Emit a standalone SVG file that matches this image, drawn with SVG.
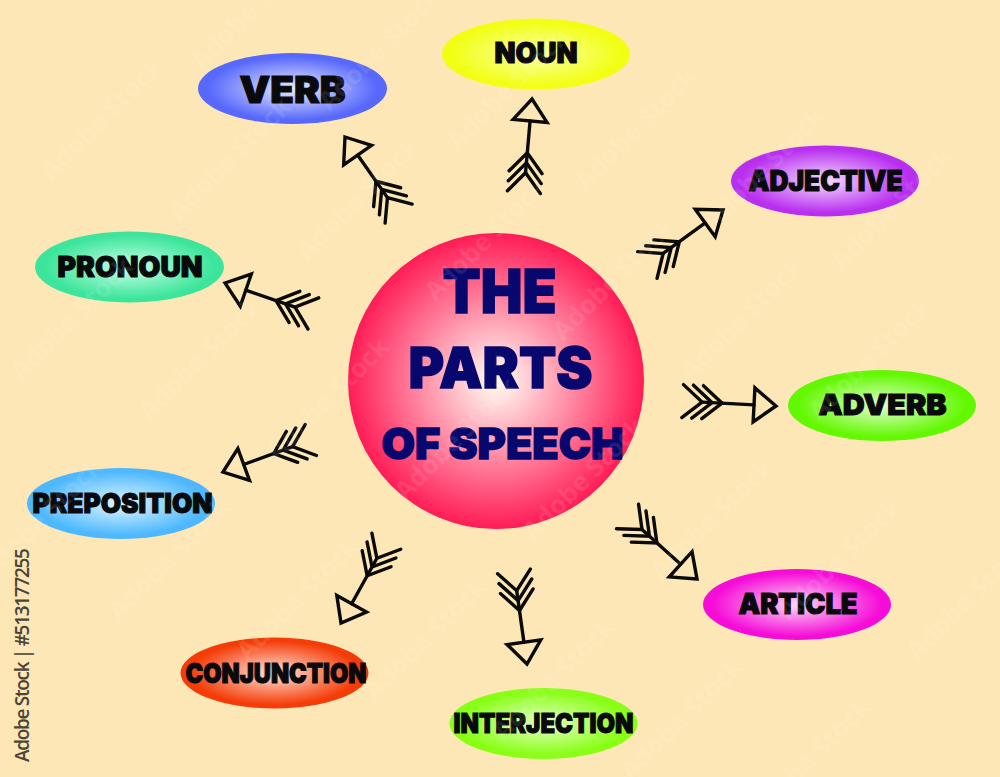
<svg xmlns="http://www.w3.org/2000/svg" xmlns:xlink="http://www.w3.org/1999/xlink" width="1000" height="777" viewBox="0 0 1000 777">
<style>
.lb{font-family:Inter,"Liberation Sans",Arial,sans-serif;font-weight:900;fill:#0a0a0c;stroke:#0a0a0c;stroke-width:1.1;text-anchor:middle}
.tt{font-family:Inter,"Liberation Sans",Arial,sans-serif;font-weight:900;fill:#07076e;stroke:#07076e;stroke-width:1.4;text-anchor:middle}
.ar{fill:none;stroke:#0a0a0a;stroke-width:3.4;stroke-linecap:round;stroke-linejoin:miter}
.wm{font-family:"Open Sans",sans-serif;font-weight:700;font-size:26px;fill:#fff;fill-opacity:.1;text-anchor:middle}
.id{font-family:"Open Sans",sans-serif;font-weight:600;font-size:19px;fill:#4a4538}
</style>
<defs>
<radialGradient id="gC"><stop offset="0" stop-color="#fffae0"/><stop offset=".12" stop-color="#ffe4e2"/><stop offset="1" stop-color="#ff1c56"/></radialGradient>
<radialGradient id="g1"><stop offset="0" stop-color="#fbffa8"/><stop offset=".9" stop-color="#f2ff14"/></radialGradient>
<radialGradient id="g2"><stop offset="0" stop-color="#e8ecff"/><stop offset=".9" stop-color="#5768fb"/></radialGradient>
<radialGradient id="g3"><stop offset="0" stop-color="#c8ffe6"/><stop offset=".9" stop-color="#3ce59b"/></radialGradient>
<radialGradient id="g4"><stop offset="0" stop-color="#f3dcff"/><stop offset=".9" stop-color="#b92ff0"/></radialGradient>
<radialGradient id="g5"><stop offset="0" stop-color="#e2ffd0"/><stop offset=".9" stop-color="#62f800"/></radialGradient>
<radialGradient id="g6"><stop offset="0" stop-color="#ffd8f6"/><stop offset=".9" stop-color="#f50cd8"/></radialGradient>
<radialGradient id="g7"><stop offset="0" stop-color="#e6ffc8"/><stop offset=".9" stop-color="#88ff14"/></radialGradient>
<radialGradient id="g8"><stop offset="0" stop-color="#ffe4da"/><stop offset=".9" stop-color="#f53c08"/></radialGradient>
<radialGradient id="g9"><stop offset="0" stop-color="#e0f6ff"/><stop offset=".9" stop-color="#4db8ff"/></radialGradient>
<g id="arw" class="ar">
<path d="M0 0L17 22H-17Z"/>
<path d="M0 22V74"/>
<path d="M-16.500 73.500L0 54L16.500 73.500M-16.500 83.500L0 64L16.500 83.500M-16.500 93.500L0 74L16.500 93.500"/>
</g>
<text id="mk" class="wm" transform="rotate(-45)">Adobe Stock</text>
</defs>
<rect width="1000" height="777" fill="#fde7b6"/>
<g id="connectors">
<use xlink:href="#arw" href="#arw" transform="translate(532 99) rotate(5)"/>
<use xlink:href="#arw" href="#arw" transform="translate(345 137) rotate(-35)"/>
<use xlink:href="#arw" href="#arw" transform="translate(723 210) rotate(54)"/>
<use xlink:href="#arw" href="#arw" transform="translate(776 406) rotate(93)"/>
<use xlink:href="#arw" href="#arw" transform="translate(697 579) rotate(132)"/>
<use xlink:href="#arw" href="#arw" transform="translate(527 664) rotate(172)"/>
<use xlink:href="#arw" href="#arw" transform="translate(341 623) rotate(209)"/>
<use xlink:href="#arw" href="#arw" transform="translate(223 472) rotate(250)"/>
<use xlink:href="#arw" href="#arw" transform="translate(225 283) rotate(-71)"/>
</g>
<g id="center"><circle cx="496" cy="381" r="148" fill="url(#gC)"/>
<text class="tt" x="499.500" y="313" font-size="60" textLength="114" lengthAdjust="spacingAndGlyphs">THE</text>
<text class="tt" x="500.500" y="388" font-size="56" textLength="184" lengthAdjust="spacingAndGlyphs">PARTS</text>
<text class="tt" x="502.500" y="459" font-size="42" textLength="242" lengthAdjust="spacingAndGlyphs">OF SPEECH</text></g>
<g id="noun"><ellipse cx="536" cy="54" rx="94" ry="35.500" fill="url(#g1)"/><text class="lb" x="536" y="63" font-size="28" textLength="83" lengthAdjust="spacingAndGlyphs">NOUN</text></g>
<g id="verb"><ellipse cx="292.500" cy="88.500" rx="94.500" ry="35.500" fill="url(#g2)"/><text class="lb" x="292.500" y="103" font-size="37" textLength="106" lengthAdjust="spacingAndGlyphs">VERB</text></g>
<g id="pronoun"><ellipse cx="129.500" cy="267" rx="94.500" ry="35.500" fill="url(#g3)"/><text class="lb" x="130" y="277" font-size="28" textLength="145" lengthAdjust="spacingAndGlyphs">PRONOUN</text></g>
<g id="adjective"><ellipse cx="825" cy="181" rx="94" ry="35.500" fill="url(#g4)"/><text class="lb" x="825.500" y="191" font-size="28" textLength="154" lengthAdjust="spacingAndGlyphs">ADJECTIVE</text></g>
<g id="adverb"><ellipse cx="882" cy="405.500" rx="94" ry="35.500" fill="url(#g5)"/><text class="lb" x="882.500" y="415" font-size="29" textLength="128" lengthAdjust="spacingAndGlyphs">ADVERB</text></g>
<g id="article"><ellipse cx="797" cy="604.500" rx="94" ry="35.500" fill="url(#g6)"/><text class="lb" x="798" y="614" font-size="28" textLength="119" lengthAdjust="spacingAndGlyphs">ARTICLE</text></g>
<g id="interjection"><ellipse cx="543.500" cy="723.500" rx="94" ry="35.500" fill="url(#g7)"/><text class="lb" x="543.500" y="733" font-size="27" textLength="180" lengthAdjust="spacingAndGlyphs">INTERJECTION</text></g>
<g id="conjunction"><ellipse cx="274.500" cy="673" rx="94" ry="35.500" fill="url(#g8)"/><text class="lb" x="276" y="683" font-size="27" textLength="181" lengthAdjust="spacingAndGlyphs">CONJUNCTION</text></g>
<g id="preposition"><ellipse cx="121" cy="503.500" rx="94" ry="35.500" fill="url(#g9)"/><text class="lb" x="122.500" y="513" font-size="27" textLength="180" lengthAdjust="spacingAndGlyphs">PREPOSITION</text></g>
<g id="marks">
<use href="#mk" transform="translate(108 125)"/><use href="#mk" transform="translate(236 165)"/><use href="#mk" transform="translate(364 205)"/><use href="#mk" transform="translate(492 245)"/><use href="#mk" transform="translate(620 285)"/><use href="#mk" transform="translate(748 325)"/><use href="#mk" transform="translate(876 365)"/>
<use href="#mk" transform="translate(78 325)"/><use href="#mk" transform="translate(206 365)"/><use href="#mk" transform="translate(334 405)"/><use href="#mk" transform="translate(462 445)"/><use href="#mk" transform="translate(590 485)"/><use href="#mk" transform="translate(718 525)"/><use href="#mk" transform="translate(846 565)"/><use href="#mk" transform="translate(974 605)"/>
<use href="#mk" transform="translate(48 525)"/><use href="#mk" transform="translate(176 565)"/><use href="#mk" transform="translate(304 605)"/><use href="#mk" transform="translate(432 645)"/><use href="#mk" transform="translate(560 685)"/><use href="#mk" transform="translate(688 725)"/><use href="#mk" transform="translate(816 765)"/>
<use href="#mk" transform="translate(258 15)"/><use href="#mk" transform="translate(386 55)"/><use href="#mk" transform="translate(514 95)"/><use href="#mk" transform="translate(642 135)"/><use href="#mk" transform="translate(770 175)"/><use href="#mk" transform="translate(898 215)"/>
</g>
<text class="id" transform="translate(29 762) rotate(-90)" textLength="214">Adobe Stock | #513177255</text>
</svg>
